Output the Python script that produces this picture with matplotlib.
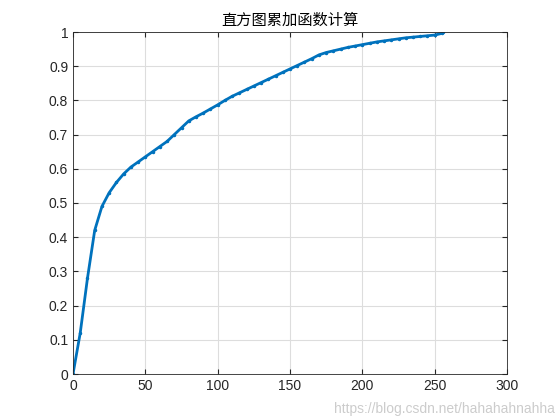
import matplotlib
matplotlib.use("Agg")
import matplotlib.pyplot as plt

plt.rcParams['font.family'] = ['Liberation Sans', 'Noto Sans CJK SC', 'DejaVu Sans']

xs = [0,5,10,15,20,25,30,35,40,45,50,55,60,65,70,75,80,85,90,95,100,105,110,115,120,125,
      130,135,140,145,150,155,160,165,170,175,180,185,190,195,200,205,210,215,220,225,230,
      235,240,245,250,255,256]
ys = [0.0,0.12,0.28,0.42,0.49,0.53,0.56,0.585,0.605,0.62,0.635,0.65,0.665,0.68,0.70,0.72,
      0.74,0.752,0.763,0.775,0.787,0.80,0.812,0.822,0.832,0.842,0.852,0.862,0.872,0.882,
      0.892,0.902,0.912,0.922,0.933,0.940,0.945,0.950,0.955,0.959,0.963,0.967,0.971,0.974,
      0.977,0.980,0.983,0.985,0.987,0.989,0.991,0.996,1.0]
title = "直方图累加函数计算"

fig = plt.figure(figsize=(5.6, 4.2), dpi=100)
ax = fig.add_axes([73/560, 46/420, 434/560, 342/420])
ax.plot(xs, ys, color='#0072BD', lw=2, marker='.', ms=3)
ax.set_xlim(0, 300)
ax.set_ylim(0, 1)
ax.set_xticks(range(0, 301, 50))
ax.set_yticks([i/10 for i in range(11)])
ax.set_yticklabels(['0'] + [f'{i/10:g}' for i in range(1, 10)] + ['1'])
ax.grid(True, color='#dddddd', lw=0.8)
ax.tick_params(direction='in', labelsize=10, top=True, right=True, colors='#262626')
for s in ax.spines.values():
    s.set_color('#262626'); s.set_linewidth(0.6)
ax.set_title(title, fontsize=11, pad=5, family=['Noto Sans CJK SC', 'DejaVu Sans'])
fig.text(0.99, 0.01, "https://blog.csdn.net/hahahahnahha", ha='right', va='bottom',
         color='#cccccc', fontsize=10)
fig.savefig("out.png")
